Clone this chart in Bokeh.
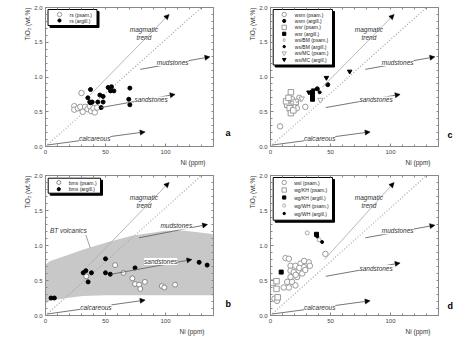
from bokeh.plotting import figure
from bokeh.layouts import gridplot
from bokeh.models import (Label, Arrow, NormalHead, LinearAxis, FixedTicker,
                          NumeralTickFormatter, Range1d, Title)
from bokeh.embed import file_html
from bokeh.resources import INLINE
from bokeh.core.properties import value

FONT = "Liberation Sans"

# ---------------- data ----------------
X_TICKS = [0, 50, 100]
Y_TICKS = [0.0, 0.5, 1.0, 1.5, 2.0]
X_LABEL = "Ni (ppm)"
Y_LABEL = "TiO\u2082 (wt.%)"

# panel a
a_psam_ni = [24, 24, 30, 27, 29, 31, 33, 35, 37, 38, 40, 41, 43]
a_psam_ti = [0.58, 0.53, 0.77, 0.55, 0.57, 0.50, 0.57, 0.54, 0.58, 0.51, 0.55, 0.49, 0.56]
a_argill_ni = [37.5, 35.3, 36.9, 38.9, 43.6, 45.3, 48, 48, 46.4, 52.2, 55, 54.2, 57, 70.3, 69.4, 70.3, 37.5]
a_argill_ti = [0.82, 0.70, 0.64, 0.64, 0.64, 0.74, 0.72, 0.64, 0.56, 0.85, 0.86, 0.80, 0.80, 0.84, 0.68, 0.60, 0.63]
a_names = ["rs (psam.)", "rs (argill.)"]

# panel b
b_psam_ni = [34, 58, 65, 72.4, 74.6, 78, 79, 82.8, 97, 99, 108]
b_psam_ti = [0.56, 0.72, 0.61, 0.53, 0.45, 0.44, 0.38, 0.48, 0.42, 0.40, 0.44]
b_argill_ni = [4.6, 7.4, 31.4, 33.6, 35.5, 38.3, 50, 50, 54, 74.6, 128, 134.7]
b_argill_ti = [0.25, 0.25, 0.61, 0.64, 0.48, 0.61, 0.81, 0.61, 0.59, 0.68, 0.76, 0.72]
b_names = ["bms (psam.)", "bms (argill.)"]
b_bt_upper_ni = [0, 4, 18, 31, 50, 72, 100, 116, 127, 140]
b_bt_upper_ti = [0.73, 0.78, 0.86, 0.94, 1.04, 1.14, 1.21, 1.21, 1.19, 1.16]
b_bt_lower_ni = [140, 50, 31, 18, 4, 0]
b_bt_lower_ti = [0.29, 0.29, 0.28, 0.25, 0.21, 0.18]

# panel c
c_wsm_psam_ni = [8, 29, 20, 24, 22, 18]
c_wsm_psam_ti = [0.29, 0.57, 0.62, 0.70, 0.55, 0.68]
c_wsm_argill_ni = [47.7, 39]
c_wsm_argill_ti = [0.89, 0.83]
c_wsr_psam_ni = [17, 14, 16, 17, 19, 13, 21, 15]
c_wsr_psam_ti = [0.78, 0.60, 0.55, 0.48, 0.52, 0.65, 0.64, 0.70]
c_wsr_argill_ni = [35, 35, 35]
c_wsr_argill_ti = [0.73, 0.68, 0.78]
c_bm_psam_ni = [22, 25, 20, 18]
c_bm_psam_ti = [0.66, 0.68, 0.58, 0.63]
c_bm_argill_ni = [41]
c_bm_argill_ti = [0.78]
c_mc_psam_ni = [41.6, 26]
c_mc_psam_ti = [0.67, 0.69]
c_mc_argill_ni = [32, 46.6, 66, 36]
c_mc_argill_ti = [0.78, 0.99, 1.08, 0.81]
c_names = ["wsm (psam.)", "wsm (argill.)", "wsr (psam.)", "wsr (argill.)",
           "ws/BM (psam.)", "ws/BM (argill.)", "ws/MC (psam.)", "ws/MC (argill.)"]

# panel d
d_wsl_psam_ni = [45.8, 12.5, 15.3, 16.7, 20.8, 25, 27.8, 31.9, 32.8, 16.7, 19.4, 23.6, 26.4,
                 22.2, 16.7, 13.9, 18, 20.8, 15.3, 11, 3.3, 5.5, 24, 29, 21, 28]
d_wsl_psam_ti = [0.88, 0.82, 0.81, 0.71, 0.71, 0.74, 0.69, 0.76, 0.71, 0.64, 0.62, 0.64, 0.60,
                 0.55, 0.55, 0.48, 0.48, 0.43, 0.40, 0.40, 0.24, 0.21, 0.68, 0.65, 0.58, 0.78]
d_kh_psam_ni = [2, 5, 5, 6]
d_kh_psam_ti = [0.47, 0.49, 0.38, 0.26]
d_kh_argill_ni = [8.9, 38.3]
d_kh_argill_ti = [0.62, 1.16]
d_wh_psam_ni = [30.6, 40.5]
d_wh_psam_ti = [1.18, 1.08]
d_wh_argill_ni = [38.9, 43]
d_wh_argill_ti = [1.13, 1.05]
d_names = ["wsl (psam.)", "wg/KH (psam.)", "wg/KH (argill.)", "wg/WH (psam.)", "wg/WH (argill.)"]

# marker styles: (marker, size, fill, line)
OPEN_C = ("circle", 5.5, "white", "#9a9a9a")
FILL_C = ("circle", 4, "black", "black")
OPEN_S = ("square", 5.5, "white", "#9a9a9a")
FILL_S = ("square", 4, "black", "black")
SMALL_OPEN = ("diamond", 4.5, "white", "#aaaaaa")
SMALL_FILL = ("circle", 3, "black", "black")
OPEN_T = ("inverted_triangle", 5.5, "white", "#aaaaaa")
FILL_T = ("inverted_triangle", 4.5, "black", "black")
SMALL_OPEN_C = ("circle", 4, "white", "#aaaaaa")
BMS_OPEN = ("circle", 5, "white", "#888888")

XMAX, YMAX = 140, 2.0
AX_COL = "#888888"
MINOR_X = list(range(0, 141, 10))
MINOR_Y = [i / 10 for i in range(21)]


def make_panel(width, height, bl, br, bt, bb, letter, letter_y, letter_standoff, xoff):
    p = figure(width=width, height=height, x_range=Range1d(0, XMAX), y_range=Range1d(0, YMAX),
               output_backend="svg", toolbar_location=None,
               min_border_left=bl, min_border_right=br, min_border_top=bt, min_border_bottom=bb,
               background_fill_color="white", border_fill_color="white",
               outline_line_color=AX_COL)
    p.grid.visible = False
    p.xaxis.ticker = FixedTicker(ticks=X_TICKS, minor_ticks=MINOR_X)
    p.yaxis.ticker = FixedTicker(ticks=Y_TICKS, minor_ticks=MINOR_Y)
    p.yaxis.formatter = NumeralTickFormatter(format="0.0")
    for ax in (p.xaxis, p.yaxis):
        ax.axis_line_color = AX_COL
        ax.major_tick_line_color = AX_COL
        ax.minor_tick_line_color = AX_COL
        ax.major_tick_in = 3
        ax.major_tick_out = 0
        ax.minor_tick_in = 2
        ax.minor_tick_out = 0
        ax.major_label_text_font = FONT
        ax.major_label_text_font_size = "6px"
        ax.major_label_text_color = "#444444"
        ax.major_label_standoff = 3
    top = LinearAxis(ticker=FixedTicker(ticks=[], minor_ticks=MINOR_X),
                     major_label_standoff=0, axis_line_color=AX_COL,
                     minor_tick_line_color=AX_COL, minor_tick_in=2, minor_tick_out=0,
                     major_tick_in=0, major_tick_out=0)
    right = LinearAxis(ticker=FixedTicker(ticks=[letter_y], minor_ticks=MINOR_Y),
                       major_label_overrides={letter_y: letter},
                       major_label_standoff=letter_standoff, axis_line_color=AX_COL,
                       major_label_text_font=FONT, major_label_text_font_size="9px",
                       major_label_text_font_style="bold", major_label_text_color="black",
                       minor_tick_line_color=AX_COL, minor_tick_in=2, minor_tick_out=0,
                       major_tick_in=0, major_tick_out=0)
    p.add_layout(top, "above")
    p.add_layout(right, "right")
    p.add_layout(Title(text=X_LABEL, align="right", offset=xoff, standoff=1,
                       text_font=FONT, text_font_size="6.5px", text_font_style="normal",
                       text_color="#333333"), "below")
    p.add_layout(Title(text=Y_LABEL, align="right", offset=0, standoff=1,
                       text_font=FONT, text_font_size="6.5px", text_font_style="normal",
                       text_color="#333333"), "left")
    return p


def add_points(p, xs, ys, style):
    m, s, f, l = style
    p.scatter(xs, ys, marker=m, size=s, fill_color=f, line_color=l, line_width=1)


def add_text(p, x, y, text, size="6.5px", style="italic", bg=None, align="center"):
    lab = Label(x=x, y=y, text=text, text_font=FONT, text_font_size=size,
                text_font_style=style, text_align=align, text_baseline="middle",
                text_color="#333333")
    if bg:
        lab.background_fill_color = bg
    p.add_layout(lab)


def add_arrow(p, x0, y0, x1, y1, color="#666666"):
    p.add_layout(Arrow(end=NormalHead(size=5, fill_color="black", line_color="black", line_width=0.5),
                       x_start=x0, y_start=y0, x_end=x1, y_end=y1,
                       line_color=color, line_width=0.9))


def add_trends(p, mag_start, mud, sand, calc):
    p.line([0, 130], [0, 2.0], line_dash="1 2", line_color="#aaaaaa", line_width=1.3)
    add_arrow(p, mag_start[0], mag_start[1], 103, 1.9, color="#b0b0b0")
    add_text(p, 82, 1.68, "magmatic")
    add_text(p, 82, 1.57, "trend")
    (mx0, my0, mx1, my1, mtx, mty) = mud
    add_arrow(p, mx0, my0, mx1, my1)
    add_text(p, mtx, mty, "mudstones", bg="white")
    (sx0, sy0, sx1, sy1, stx, sty) = sand
    add_arrow(p, sx0, sy0, sx1, sy1)
    add_text(p, stx, sty, "sandstones", bg="white")
    (cx0, cy0, cx1, cy1, ctx, cty) = calc
    add_arrow(p, cx0, cy0, cx1, cy1)
    add_text(p, ctx, cty, "calcareous", bg="white")


def add_legend(p, fh, box, mx, tx, rows, styles, names):
    kx = XMAX / 168.0
    ky = YMAX / fh
    X = lambda px: px * kx
    Y = lambda py: YMAX - py * ky
    x0, y0, x1, y1 = box
    p.quad(left=X(x0 + 2), right=X(x1 + 2), top=Y(y0 + 2), bottom=Y(y1 + 2),
           fill_color="black", line_color="black")
    p.quad(left=X(x0), right=X(x1), top=Y(y0), bottom=Y(y1),
           fill_color="white", line_color="black", line_width=1)
    for r, st, nm in zip(rows, styles, names):
        m, s, f, l = st
        p.scatter([X(mx)], [Y(r)], marker=m, size=s * 0.8, fill_color=f, line_color=l)
        p.text([X(tx)], [Y(r)], text=[nm], text_font=value(FONT), text_font_size="5px",
               text_baseline="middle", text_align="left", text_color="#222222")


COMMON_MUD = (79, 1.11, 137, 1.29, 106, 1.21)
COMMON_SAND = (46, 0.56, 108, 0.75, 88, 0.67)
COMMON_CALC = (1, 0.02, 83, 0.21, 41, 0.11)

# ---- panel a ----
pa = make_panel(237, 170, 45, 24, 7, 24, "a", 0.19, 12, 8)
add_trends(pa, (37, 0.74), COMMON_MUD, COMMON_SAND, COMMON_CALC)
add_points(pa, a_psam_ni, a_psam_ti, OPEN_C)
add_points(pa, a_argill_ni, a_argill_ti, FILL_C)
add_legend(pa, 139, (2.5, 2, 51.5, 18), 14, 24, [7, 13], [OPEN_C, FILL_C], a_names)

# ---- panel c ----
pc = make_panel(237, 170, 33, 36, 7, 24, "c", 0.16, 9, 8)
add_trends(pc, (43, 0.85), COMMON_MUD, COMMON_SAND, COMMON_CALC)
add_points(pc, c_wsm_psam_ni, c_wsm_psam_ti, OPEN_C)
add_points(pc, c_wsr_psam_ni, c_wsr_psam_ti, OPEN_S)
add_points(pc, c_bm_psam_ni, c_bm_psam_ti, SMALL_OPEN)
add_points(pc, c_mc_psam_ni, c_mc_psam_ti, OPEN_T)
add_points(pc, c_wsm_argill_ni, c_wsm_argill_ti, FILL_C)
add_points(pc, c_wsr_argill_ni, c_wsr_argill_ti, FILL_S)
add_points(pc, c_bm_argill_ni, c_bm_argill_ti, SMALL_FILL)
add_points(pc, c_mc_argill_ni, c_mc_argill_ti, FILL_T)
add_legend(pc, 139, (2.7, 2, 62, 57.5), 13.7, 24.3,
           [7, 13.4, 19.9, 26.3, 32.7, 39.1, 45.6, 52],
           [OPEN_C, FILL_C, OPEN_S, FILL_S, SMALL_OPEN, SMALL_FILL, OPEN_T, FILL_T], c_names)

# ---- panel b ----
pb = make_panel(237, 177, 45, 24, 5, 32, "b", 0.16, 12, 9)
pb.patch(b_bt_upper_ni + b_bt_lower_ni, b_bt_upper_ti + b_bt_lower_ti,
         fill_color="#c8c8c8", line_color=None)
add_trends(pb, (35, 0.70), (78, 1.11, 135, 1.30, 109, 1.28),
           (55, 0.59, 122, 0.80, 96, 0.77), (1, 0.02, 83, 0.22, 42, 0.11))
add_text(pb, 19, 1.22, "BT volcanics")
pb.line([33.6, 37.4], [1.15, 0.96], line_color="#888888", line_width=0.8)
add_points(pb, b_psam_ni, b_psam_ti, BMS_OPEN)
add_points(pb, b_argill_ni, b_argill_ti, FILL_C)
add_legend(pb, 140, (2.7, 2.7, 55, 17.7), 13.3, 23.3, [7, 13.7],
           [BMS_OPEN, FILL_C], b_names)

# ---- panel d ----
pd_ = make_panel(237, 177, 33, 36, 5, 32, "d", 0.14, 9, 8)
add_trends(pd_, (45, 0.80), COMMON_MUD, COMMON_SAND, COMMON_CALC)
add_points(pd_, d_wsl_psam_ni, d_wsl_psam_ti, OPEN_C)
add_points(pd_, d_kh_psam_ni, d_kh_psam_ti, OPEN_S)
add_points(pd_, d_wh_psam_ni, d_wh_psam_ti, SMALL_OPEN_C)
add_points(pd_, d_kh_argill_ni, d_kh_argill_ti, FILL_S)
add_points(pd_, d_wh_argill_ni, d_wh_argill_ti, SMALL_FILL)
add_legend(pd_, 140, (2.7, 2, 62, 44.7), 13.7, 23.7, [7, 14.5, 22, 30, 38],
           [OPEN_C, OPEN_S, FILL_S, SMALL_OPEN_C, SMALL_FILL], d_names)

grid = gridplot([[pa, pc], [pb, pd_]], toolbar_location=None)

open("out.html", "w").write(file_html(grid, INLINE))
